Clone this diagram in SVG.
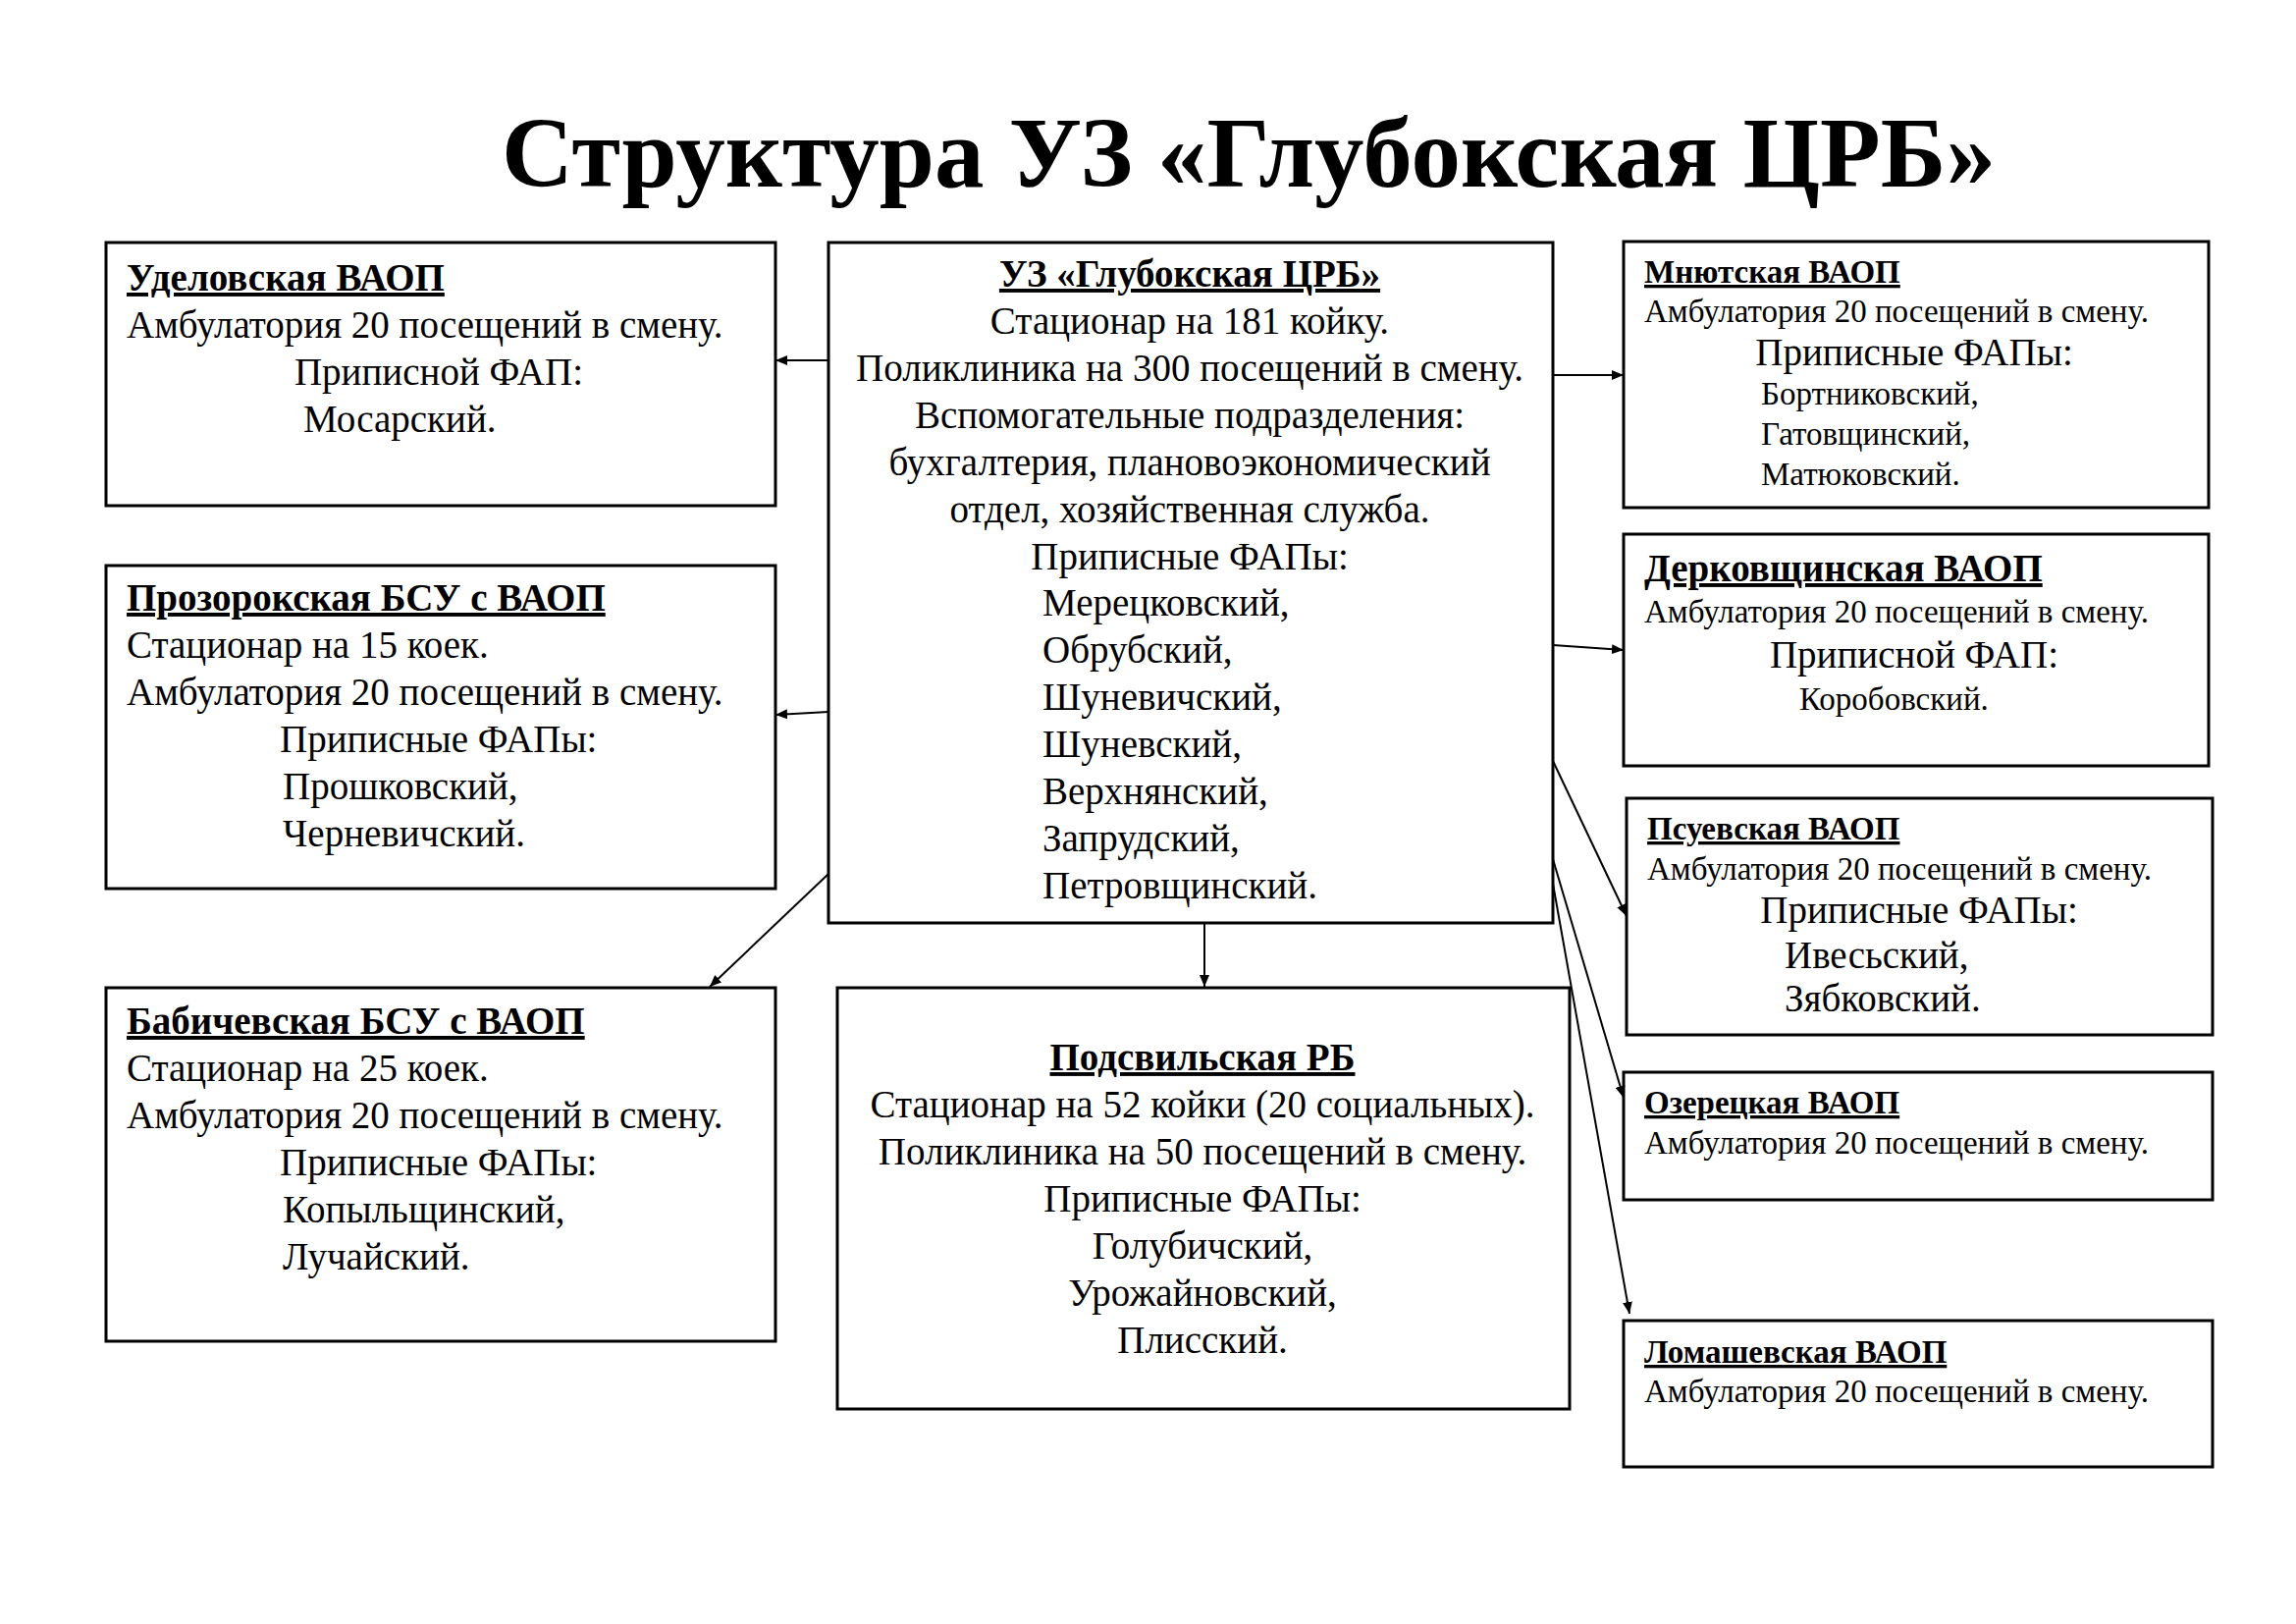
<svg xmlns="http://www.w3.org/2000/svg" width="2339" height="1654" viewBox="0 0 2339 1654">
<style>
text{font-family:"Liberation Serif","Times New Roman",serif;fill:#000}
.t{font-size:39px}
.s{font-size:33px}
.b{font-weight:bold;text-decoration:underline}
.c{text-anchor:middle}
rect{fill:#fff;stroke:#000;stroke-width:3}
.con line{stroke:#000;stroke-width:2;marker-end:url(#ah)}
</style>
<defs><marker id="ah" viewBox="0 0 12 10" refX="12" refY="5" markerWidth="12" markerHeight="10" orient="auto" markerUnits="userSpaceOnUse"><path d="M0,0 L12,5 L0,10 Z" fill="#000"/></marker></defs>
<rect x="0" y="0" width="2339" height="1654" style="stroke:none"/>
<text x="1272" y="190" class="c" style="font-size:101px;font-weight:bold">Структура УЗ «Глубокская ЦРБ»</text>

<g id="udel"><rect x="108" y="247" width="682" height="268"/>
<text class="t b" x="129" y="296">Уделовская  ВАОП</text>
<text class="t" x="129" y="344">Амбулатория 20 посещений в смену.</text>
<text class="t c" x="447" y="392">Приписной ФАП:</text>
<text class="t" x="309" y="440">Мосарский.</text></g>

<g id="proz"><rect x="108" y="576" width="682" height="329"/>
<text class="t b" x="129" y="622">Прозорокская БСУ с ВАОП</text>
<text class="t" x="129" y="670">Стационар на 15 коек.</text>
<text class="t" x="129" y="718">Амбулатория 20 посещений в смену.</text>
<text class="t" x="285" y="766">Приписные ФАПы:</text>
<text class="t" x="288" y="814">Прошковский,</text>
<text class="t" x="288" y="862">Черневичский.</text></g>

<g id="babi"><rect x="108" y="1006" width="682" height="360"/>
<text class="t b" x="129" y="1053">Бабичевская БСУ с ВАОП</text>
<text class="t" x="129" y="1101">Стационар на 25 коек.</text>
<text class="t" x="129" y="1149">Амбулатория 20 посещений в смену.</text>
<text class="t" x="285" y="1197">Приписные ФАПы:</text>
<text class="t" x="288" y="1245">Копыльщинский,</text>
<text class="t" x="288" y="1293">Лучайский.</text></g>

<g id="center"><rect x="844" y="247" width="738" height="693"/>
<text class="t b c" x="1212" y="292">УЗ «Глубокская ЦРБ»</text>
<text class="t c" x="1212" y="340">Стационар на 181 койку.</text>
<text class="t c" x="1212" y="388">Поликлиника на 300 посещений в смену.</text>
<text class="t c" x="1212" y="436">Вспомогательные подразделения:</text>
<text class="t c" x="1212" y="484">бухгалтерия, плановоэкономический</text>
<text class="t c" x="1212" y="532">отдел, хозяйственная служба.</text>
<text class="t c" x="1212" y="580">Приписные ФАПы:</text>
<text class="t" x="1062" y="627">Мерецковский,</text>
<text class="t" x="1062" y="675">Обрубский,</text>
<text class="t" x="1062" y="723">Шуневичский,</text>
<text class="t" x="1062" y="771">Шуневский,</text>
<text class="t" x="1062" y="819">Верхнянский,</text>
<text class="t" x="1062" y="867">Запрудский,</text>
<text class="t" x="1062" y="915">Петровщинский.</text></g>

<g id="podsv"><rect x="853" y="1006" width="746" height="429"/>
<text class="t b c" x="1225" y="1090">Подсвильская РБ</text>
<text class="t c" x="1225" y="1138">Стационар на 52 койки (20 социальных).</text>
<text class="t c" x="1225" y="1186">Поликлиника на 50 посещений в смену.</text>
<text class="t c" x="1225" y="1234">Приписные ФАПы:</text>
<text class="t c" x="1225" y="1282">Голубичский,</text>
<text class="t c" x="1225" y="1330">Урожайновский,</text>
<text class="t c" x="1225" y="1378">Плисский.</text></g>

<g id="mnyut"><rect x="1654" y="246" width="596" height="271"/>
<text class="s b" x="1675" y="288">Мнютская ВАОП</text>
<text class="s" x="1675" y="328">Амбулатория 20 посещений в смену.</text>
<text class="t c" x="1950" y="372">Приписные ФАПы:</text>
<text class="s" x="1794" y="412">Бортниковский,</text>
<text class="s" x="1794" y="453">Гатовщинский,</text>
<text class="s" x="1794" y="494">Матюковский.</text></g>

<g id="derk"><rect x="1654" y="544" width="596" height="236"/>
<text class="t b" x="1675" y="592">Дерковщинская ВАОП</text>
<text class="s" x="1675" y="634">Амбулатория 20 посещений в смену.</text>
<text class="t c" x="1950" y="680">Приписной ФАП:</text>
<text class="s" x="1833" y="723">Коробовский.</text></g>

<g id="psuev"><rect x="1657" y="813" width="597" height="241"/>
<text class="s b" x="1678" y="855">Псуевская ВАОП</text>
<text class="s" x="1678" y="896">Амбулатория 20 посещений в смену.</text>
<text class="t c" x="1955" y="940">Приписные ФАПы:</text>
<text class="t" x="1818" y="986">Ивесьский,</text>
<text class="t" x="1818" y="1030">Зябковский.</text></g>

<g id="ozer"><rect x="1654" y="1092" width="600" height="130"/>
<text class="s b" x="1675" y="1134">Озерецкая ВАОП</text>
<text class="s" x="1675" y="1175">Амбулатория 20 посещений в смену.</text></g>

<g id="lomash"><rect x="1654" y="1345" width="600" height="149"/>
<text class="s b" x="1675" y="1388">Ломашевская ВАОП</text>
<text class="s" x="1675" y="1428">Амбулатория 20 посещений в смену.</text></g>

<g class="con" id="connectors">
<line x1="844" y1="367" x2="790" y2="367"/>
<line x1="844" y1="725" x2="790" y2="728"/>
<line x1="844" y1="890" x2="723" y2="1005"/>
<line x1="1227" y1="940" x2="1227" y2="1005"/>
<line x1="1582" y1="382" x2="1654" y2="382"/>
<line x1="1582" y1="657" x2="1654" y2="662"/>
<line x1="1582" y1="775" x2="1657" y2="933"/>
<line x1="1582" y1="875" x2="1654" y2="1118"/>
<line x1="1582" y1="900" x2="1660" y2="1338"/>
</g>
</svg>
